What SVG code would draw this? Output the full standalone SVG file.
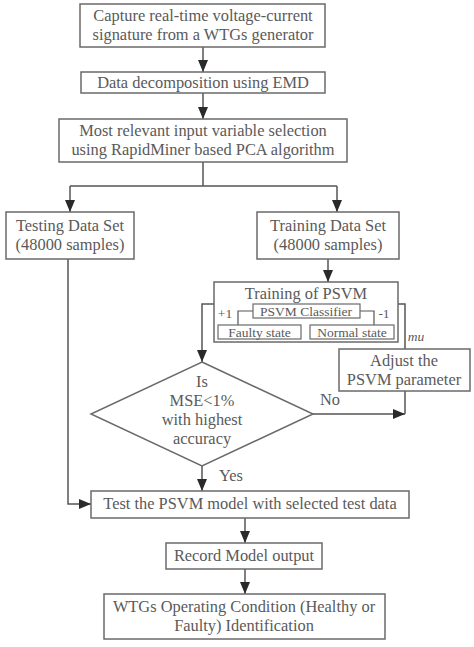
<svg xmlns="http://www.w3.org/2000/svg" width="474" height="647" viewBox="0 0 474 647">
<defs>
<marker id="ah" markerWidth="12" markerHeight="10" refX="12" refY="5" orient="auto" markerUnits="userSpaceOnUse">
<path d="M0,0 L12,5 L0,10 Z" fill="#2a2a2a"/>
</marker>
<style>
.b{fill:#fff;stroke:#6a6a6a;stroke-width:1.5}
.s{fill:#fff;stroke:#6a6a6a;stroke-width:1.2}
.t{font-family:"Liberation Serif",serif;font-size:16.4px;fill:#5a5a5a;text-anchor:middle}
.m{font-family:"Liberation Serif",serif;font-size:13.5px;fill:#5a5a5a;text-anchor:middle}
.c{fill:none;stroke:#555;stroke-width:1.5}
</style>
</defs>
<rect width="474" height="647" fill="#fff"/>
<g id="connectors">
<line class="c" x1="203" y1="47" x2="203" y2="72" marker-end="url(#ah)"/>
<line class="c" x1="203" y1="93" x2="203" y2="119" marker-end="url(#ah)"/>
<line class="c" x1="203" y1="162" x2="203" y2="186"/>
<line class="c" x1="70" y1="186" x2="337" y2="186"/>
<line class="c" x1="70" y1="186" x2="70" y2="212" marker-end="url(#ah)"/>
<line class="c" x1="337" y1="186" x2="337" y2="212" marker-end="url(#ah)"/>
<line class="c" x1="328" y1="259" x2="328" y2="282" marker-end="url(#ah)"/>
<path class="c" d="M214,304 H202 V362" marker-end="url(#ah)"/>
<path class="c" d="M398,304 H405 V349"/>
<line class="c" x1="313" y1="414" x2="405" y2="414" marker-end="url(#ah)"/>
<line class="c" x1="405" y1="414" x2="405" y2="391"/>
<line class="c" x1="202" y1="466" x2="202" y2="491" marker-end="url(#ah)"/>
<path class="c" d="M68,259 V504 H91" marker-end="url(#ah)"/>
<line class="c" x1="245" y1="518" x2="245" y2="543" marker-end="url(#ah)"/>
<line class="c" x1="245" y1="569" x2="245" y2="594" marker-end="url(#ah)"/>
</g>
<g id="capture">
<rect class="b" x="80" y="4" width="245" height="43"/>
<text class="t" x="203" y="21">Capture real-time voltage-current</text>
<text class="t" x="203" y="40">signature from a WTGs generator</text>
</g>
<g id="emd">
<rect class="b" x="81" y="72" width="244" height="21"/>
<text class="t" x="203" y="88">Data decomposition using EMD</text>
</g>
<g id="pca">
<rect class="b" x="59" y="119" width="288" height="43"/>
<text class="t" x="203" y="136">Most relevant input variable selection</text>
<text class="t" x="203" y="155">using RapidMiner based PCA algorithm</text>
</g>
<g id="testing">
<rect class="b" x="6" y="212" width="128" height="47"/>
<text class="t" x="70" y="231">Testing Data Set</text>
<text class="t" x="70" y="250">(48000 samples)</text>
</g>
<g id="training">
<rect class="b" x="257" y="212" width="142" height="47"/>
<text class="t" x="328" y="231">Training Data Set</text>
<text class="t" x="328" y="250">(48000 samples)</text>
</g>
<g id="psvm">
<rect class="b" x="214" y="282" width="184" height="60"/>
<text class="t" x="306" y="299">Training of PSVM</text>
<path class="c" d="M253,311 H238 V325 M360,311 H374 V325" style="stroke-width:1.2"/>
<rect class="s" x="253" y="304" width="107" height="14"/>
<text class="m" x="306" y="315.5">PSVM Classifier</text>
<rect class="s" x="218" y="325" width="83" height="14"/>
<text class="m" x="259.5" y="336.5">Faulty state</text>
<rect class="s" x="310" y="325" width="84" height="14"/>
<text class="m" x="352" y="336.5">Normal state</text>
<text class="m" x="225" y="318">+1</text>
<text class="m" x="384" y="318">-1</text>
<text class="m" x="416" y="341" style="font-style:italic">mu</text>
</g>
<g id="adjust">
<rect class="b" x="339" y="349" width="131" height="42"/>
<text class="t" x="404" y="366">Adjust the</text>
<text class="t" x="404" y="385">PSVM parameter</text>
</g>
<g id="decision">
<polygon class="b" points="202,362 313,414 202,466 91,414"/>
<text class="t" x="202" y="387">Is</text>
<text class="t" x="202" y="406">MSE&lt;1%</text>
<text class="t" x="202" y="425">with highest</text>
<text class="t" x="202" y="444">accuracy</text>
<text class="t" x="330" y="405">No</text>
<text class="t" x="231" y="481">Yes</text>
</g>
<g id="test">
<rect class="b" x="91" y="491" width="318" height="27"/>
<text class="t" x="250" y="509">Test the PSVM model with selected test data</text>
</g>
<g id="record">
<rect class="b" x="166" y="543" width="156" height="26"/>
<text class="t" x="244" y="561">Record Model output</text>
</g>
<g id="final">
<rect class="b" x="104" y="594" width="281" height="45"/>
<text class="t" x="244" y="612">WTGs Operating Condition (Healthy or</text>
<text class="t" x="244" y="631">Faulty) Identification</text>
</g>
</svg>
